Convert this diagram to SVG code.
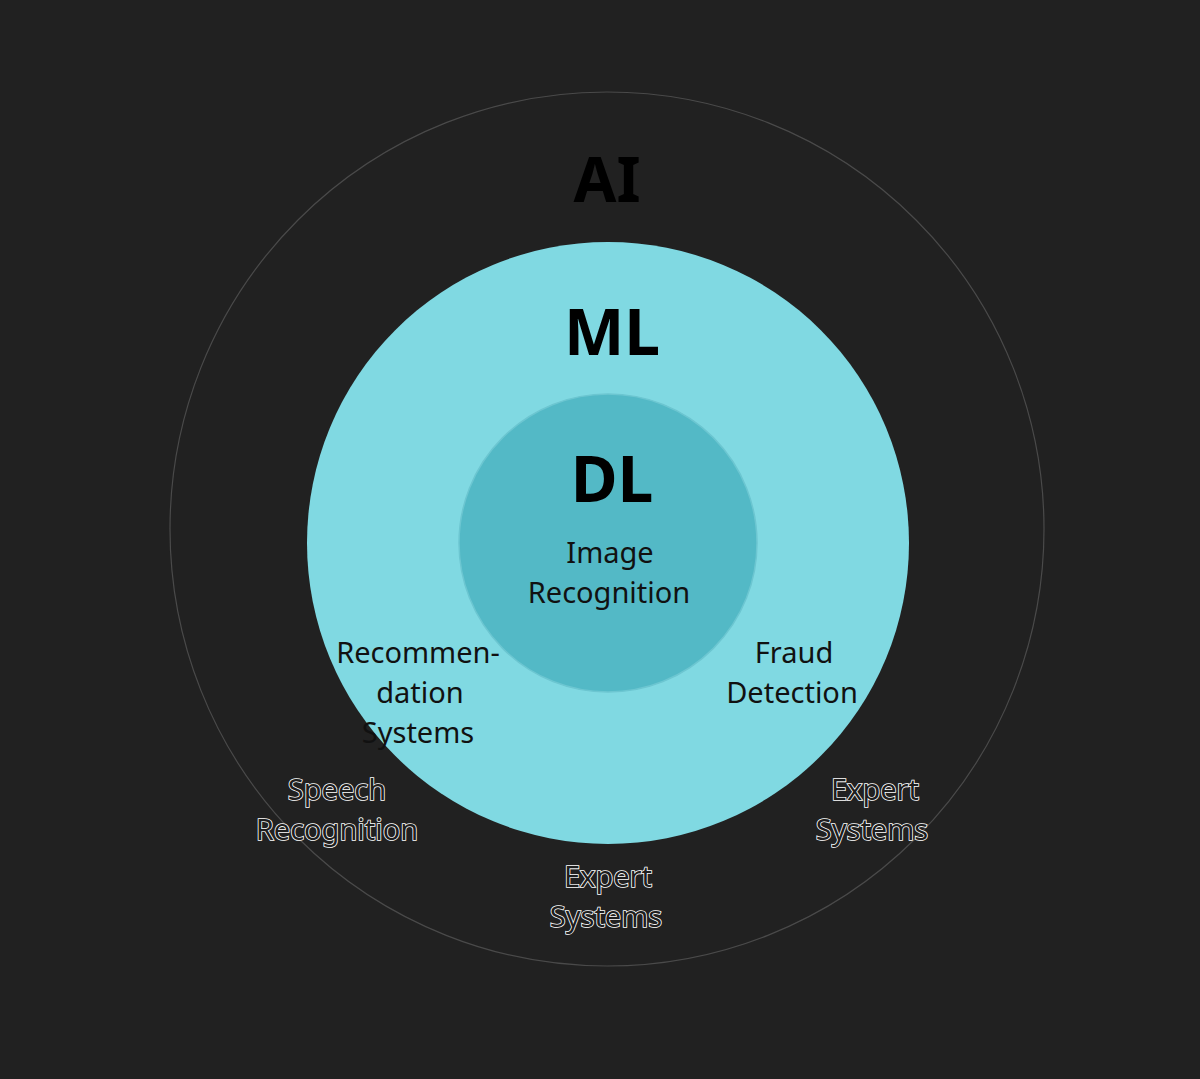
<svg xmlns="http://www.w3.org/2000/svg" width="1200" height="1079" viewBox="0 0 1200 1079">
<style>
.t{font-family:"Noto Sans","DejaVu Sans",sans-serif;text-anchor:middle}
.big{font-weight:bold;fill:#000}
.in{font-size:29px;fill:#111}
.out{font-size:29px;fill:#1e1e1e;stroke:#fff;stroke-width:1.6px;paint-order:stroke}
</style>
<rect width="1200" height="1079" fill="#212121"/>
<g id="ai"><circle cx="607" cy="529" r="437" fill="none" stroke="#4a4a4a" stroke-width="1.2"/>
<text class="t big" x="607" y="202" font-size="62">AI</text></g>
<g id="ml"><circle cx="608" cy="543" r="301" fill="#80d9e2"/>
<text class="t big" x="612" y="355" font-size="64">ML</text></g>
<g id="dl"><circle cx="608" cy="543" r="149" fill="#53b9c6" stroke="#6cc6d1" stroke-width="1.5"/>
<text class="t big" x="612" y="502" font-size="64">DL</text>
<text class="t in" x="610" y="563">Image</text>
<text class="t in" x="609" y="603">Recognition</text></g>
<g id="rec"><text class="t in" x="418" y="663">Recommen-</text><text class="t in" x="420" y="703">dation</text><text class="t in" x="418" y="743">Systems</text></g>
<g id="fraud"><text class="t in" x="794" y="663">Fraud</text><text class="t in" x="792" y="703">Detection</text></g>
<g id="speech"><text class="t out" x="337" y="800">Speech</text><text class="t out" x="337" y="840">Recognition</text></g>
<g id="expert1"><text class="t out" x="875" y="800">Expert</text><text class="t out" x="872" y="840">Systems</text></g>
<g id="expert2"><text class="t out" x="608" y="887">Expert</text><text class="t out" x="606" y="927">Systems</text></g>
<g id="connectors"/>
</svg>
